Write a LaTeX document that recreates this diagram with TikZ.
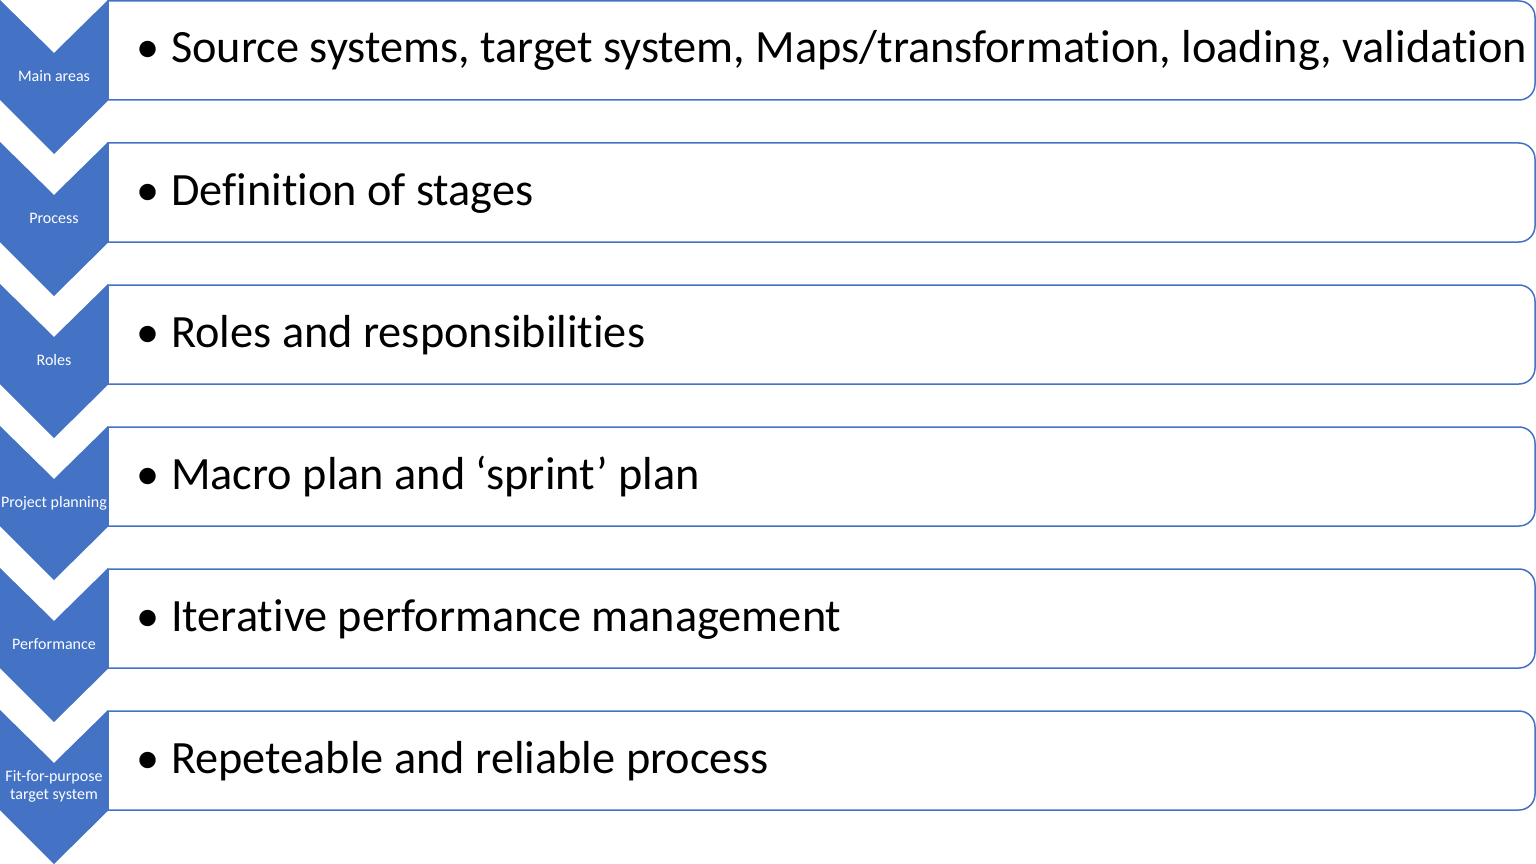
\documentclass[tikz,border=0pt]{standalone}
\usepackage{fontspec}
\setmainfont{Carlito}[Ligatures=NoCommon]
\definecolor{chev}{HTML}{4472C4}
\begin{document}
\begin{tikzpicture}[x=1pt,y=-1pt,
  chevron/.style={fill=chev,draw=none},
  itembox/.style={draw=chev,line width=1.5pt,fill=white},
  lbl/.style={text=white,font=\fontsize{16}{18}\selectfont,align=center,inner sep=0pt},
  itemtext/.style={anchor=base west,font=\fontsize{46.3}{52}\selectfont,inner sep=0pt}]
\useasboundingbox (0,0) rectangle (1536,864);
\foreach \i/\lab/\txt in {0/Main areas/{Source systems, target system, Maps/transformation, loading, validation},
  1/Process/{Definition of stages},
  2/Roles/{Roles and responsibilities},
  3/Project planning/{Macro plan and ‘sprint’ plan},
  4/Performance/{Iterative performance management},
  5/{}/{Repeteable and reliable process}}{
  \pgfmathsetmacro{\y}{142*\i}
  \draw[itembox] (108,\y+1) -- (1519,\y+1) .. controls (1527.84,\y+1) and (1535,\y+8.16) .. (1535,\y+17)
     -- (1535,\y+84) .. controls (1535,\y+92.84) and (1527.84,\y+100) .. (1519,\y+100) -- (108,\y+100) -- cycle;
  \fill[chevron] (0,\y) -- (54,\y+53) -- (108,\y) -- (108,\y+100.75) -- (54,\y+154) -- (0,\y+100) -- cycle;
  \node[lbl,anchor=base] (c\i) at (54,\y+81.5) {\lab};
  \node[itemtext] (t\i) at (136,\y+63) {\makebox[35pt][l]{\textbullet}\txt};
}
\node[lbl,anchor=center] (c5b) at (54,786) {Fit-for-purpose\\target system};
\end{tikzpicture}
\end{document}
